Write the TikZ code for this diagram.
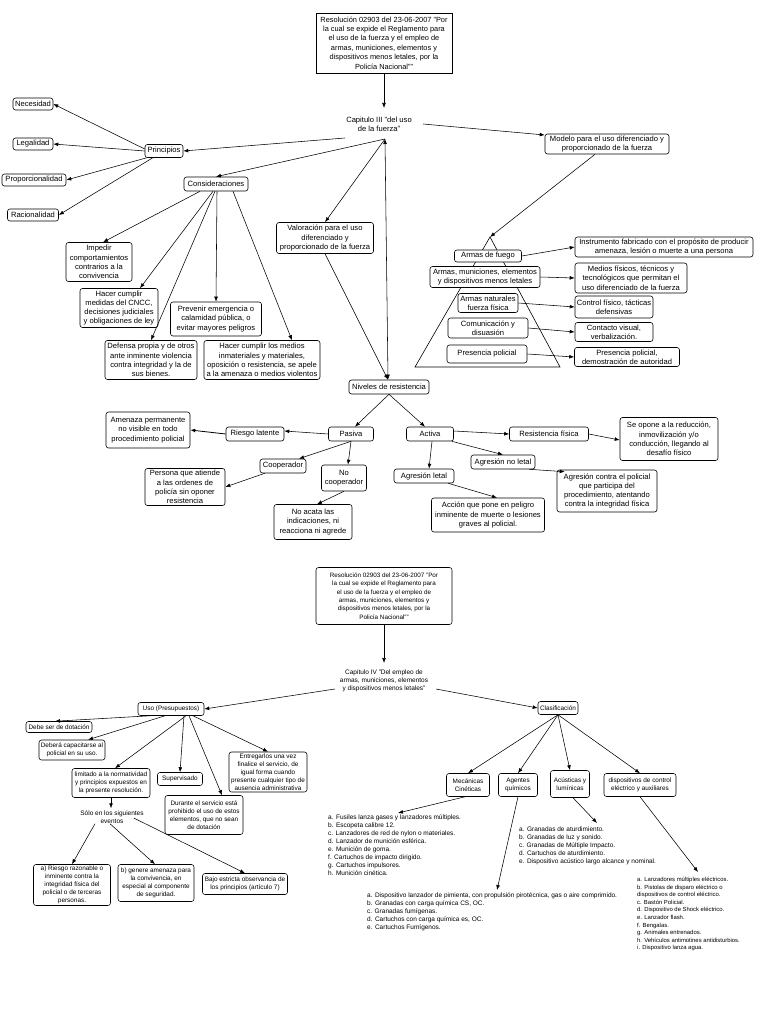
\documentclass[tikz,border=0pt]{standalone}
\usepackage{fontspec}
\setmainfont{Liberation Sans}
\usetikzlibrary{arrows.meta,calc}
\begin{document}
\begin{tikzpicture}[x=1pt,y=-1pt,
  box/.style={draw, fill=white, rounded corners=2.5pt, line width=0.6pt, align=center, inner sep=0.5pt, font=\fontsize{7.6}{9.3}\selectfont},
  sbox/.style={draw, fill=white, rounded corners=2.5pt, line width=0.55pt, align=center, inner sep=0.5pt, font=\fontsize{6.4}{7.9}\selectfont},
  plain/.style={align=center, inner sep=0pt, font=\fontsize{7.6}{9.3}\selectfont},
  splain/.style={align=center, inner sep=0pt, font=\fontsize{6.5}{8.2}\selectfont},
  lst/.style={align=left, inner sep=0pt, anchor=north west, font=\fontsize{6.5}{8}\selectfont},
  arr/.style={-{Latex[length=5pt,width=3.8pt]}, line width=0.55pt},
  darr/.style={{Latex[length=5pt,width=3.8pt]}-{Latex[length=5pt,width=3.8pt]}, line width=0.55pt},
]
\fill[white] (0,0) rectangle (768,1024);
\useasboundingbox (0,0) rectangle (768,1024);

% ---------------- TOP PART ----------------
\node[draw, fill=white, line width=0.9pt, align=center, inner sep=0.5pt, minimum width=136, minimum height=60, font=\fontsize{7.4}{9.4}\selectfont] (t1) at (384,43)
 {Resolución 02903 del 23-06-2007 "Por\\la cual se expide el Reglamento para\\el uso de la fuerza y el empleo de\\armas, municiones, elementos y\\dispositivos menos letales, por la\\Policía Nacional""};
\node[plain] (cap3) at (379,124) {Capitulo III "del uso\\de la fuerza"};
\coordinate (c3top) at (384,108);
\coordinate (c3l) at (345,138);
\coordinate (c3b) at (385,139);
\coordinate (c3r) at (423,124);

\node[box, minimum width=38, minimum height=13] (princ) at (164,151) {Principios};
\node[box, minimum width=40, minimum height=12] (nec) at (33,104) {Necesidad};
\node[box, minimum width=40, minimum height=12] (leg) at (33,144) {Legalidad};
\node[box, minimum width=64, minimum height=12] (prop) at (34,180) {Proporcionalidad};
\node[box, minimum width=51, minimum height=12] (rac) at (33,215) {Racionalidad};
\node[box, minimum width=64, minimum height=14] (cons) at (216,184) {Consideraciones};
\node[box, minimum width=124, minimum height=20] (modelo) at (607,144) {Modelo para el uso diferenciado y\\proporcionado de la fuerza};
\node[box, minimum width=97, minimum height=31] (valor) at (325,238) {Valoración para el uso\\diferenciado y\\proporcionado de la fuerza};
\node[box, minimum width=66, minimum height=39] (imped) at (99,262) {Impedir\\comportamientos\\contrarios a la\\convivencia};
\node[box, minimum width=78, minimum height=39] (cncc) at (119,308) {Hacer cumplir\\medidas del CNCC,\\decisiones judiciales\\y obligaciones de ley};
\node[box, minimum width=91, minimum height=34] (prev) at (216,319) {Prevenir emergencia o\\calamidad pública, o\\evitar mayores peligros};
\node[box, minimum width=92, minimum height=39] (defn) at (151,360) {Defensa propia y de otros\\ante inminente violencia\\contra integridad y la de\\sus bienes.};
\node[box, minimum width=116, minimum height=39] (hcm) at (262,360) {Hacer cumplir los medios\\inmateriales y materiales,\\oposición o resistencia, se apele\\a la amenaza o medios violentos};

% pyramid
\coordinate (apex) at (490,237);
\draw[line width=0.6pt] (apex) -- (415,367) -- (560,367) -- cycle;
\node[box, minimum width=67, minimum height=12] (fuego) at (488,256) {Armas de fuego};
\node[box, minimum width=110, minimum height=21] (amun) at (485,277) {Armas, municiones, elementos\\y dispositivos menos letales};
\node[box, minimum width=60, minimum height=19] (nat) at (488,303) {Armas naturales\\fuerza física};
\node[box, minimum width=80, minimum height=20] (com) at (488,328) {Comunicación y\\disuasión};
\node[box, minimum width=80, minimum height=18] (pres) at (487,354) {Presencia policial};

\node[box, minimum width=178, minimum height=20] (instr) at (664,247) {Instrumento fabricado con el propósito de producir\\amenaza, lesión o muerte a una persona};
\node[box, minimum width=112, minimum height=30] (medios) at (631,278) {Medios físicos, técnicos y\\tecnológicos que permitan el\\uso diferenciado de la fuerza};
\node[box, minimum width=78, minimum height=22] (ctrl) at (614,307) {Control físico, tácticas\\defensivas};
\node[box, minimum width=78, minimum height=19] (cont) at (614,332) {Contacto visual,\\verbalización.};
\node[box, minimum width=105, minimum height=19] (pres2) at (627,357) {Presencia policial,\\demostración de autoridad};

% niveles
\node[box, minimum width=80, minimum height=14] (niv) at (389,387) {Niveles de resistencia};
\node[box, minimum width=45, minimum height=14] (pas) at (351,434) {Pasiva};
\node[box, minimum width=47, minimum height=14] (act) at (430,434) {Activa};
\node[box, minimum width=58, minimum height=14] (riesgo) at (255,434) {Riesgo latente};
\node[box, minimum width=84, minimum height=36] (amen) at (148,430) {Amenaza permanente\\no visible en todo\\procedimiento policial};
\node[box, minimum width=46, minimum height=14] (coop) at (283,466) {Cooperador};
\node[box, minimum width=80, minimum height=37] (pers) at (185,487) {Persona que atiende\\a las ordenes de\\policía sin oponer\\resistencia};
\node[box, minimum width=45, minimum height=26] (nocoop) at (344,478) {No\\cooperador};
\node[box, minimum width=78, minimum height=35] (noacata) at (313,522) {No acata las\\indicaciones, ni\\reacciona ni agrede};
\node[box, minimum width=79, minimum height=14] (resf) at (549,434) {Resistencia física};
\node[box, minimum width=98, minimum height=43] (seop) at (669,439) {Se opone a la reducción,\\inmovilización y/o\\conducción, llegando al\\desafío físico};
\node[box, minimum width=64, minimum height=14] (agnl) at (503,462) {Agresión no letal};
\node[box, minimum width=100, minimum height=42] (agcontra) at (607,491) {Agresión contra el policial\\que participa del\\procedimiento, atentando\\contra la integridad física};
\node[box, minimum width=60, minimum height=14] (agl) at (424,476) {Agresión letal};
\node[box, minimum width=113, minimum height=34] (accion) at (488,515) {Acción que pone en peligro\\inminente de muerte o lesiones\\graves al policial.};

% connectors top
\draw[arr] (t1) -- (c3top);
\draw[arr] (c3l) -- (princ.east);
\draw[arr] (c3b) -- (cons.north);
\draw[arr] (c3b) -- (valor.north);
\draw[darr] (c3b) -- ($(niv.north)+(-1,0)$);
\draw[arr] (c3r) -- ($(modelo.west)+(0,-9)$);
\draw[arr] ($(modelo.south)+(-12,0)$) -- (apex);
\draw[arr] ($(princ.west)+(0,-2)$) -- (nec.east);
\draw[arr] (princ.west) -- (leg.east);
\draw[arr] ($(princ.south west)+(2,0)$) -- (prop.east);
\draw[arr] ($(princ.south west)+(8,0)$) -- (rac.east);
\draw[arr] ($(cons.south)+(-16,0)$) -- ($(imped.north)+(4,0)$);
\draw[arr] ($(cons.south)+(-3,0)$) -- ($(cncc.north)+(21,0)$);
\draw[arr] ($(cons.south)+(-1,0)$) -- (defn.north);
\draw[arr] ($(cons.south)+(1,0)$) -- (prev.north);
\draw[arr] ($(cons.south)+(17,0)$) -- ($(hcm.north)+(30,0)$);
\draw[arr] (valor.south) -- ($(niv.north)+(-1,0)$);
\draw[arr] (fuego.east) -- (instr.west);
\draw[arr] (amun.east) -- (medios.west);
\draw[arr] (nat.east) -- (ctrl.west);
\draw[arr] (com.east) -- (cont.west);
\draw[arr] (pres.east) -- (pres2.west);
\draw[arr] (niv.south) -- ($(pas.north)+(4,0)$);
\draw[arr] (niv.south) -- ($(act.north)+(-5,0)$);
\draw[arr] (pas.west) -- ($(riesgo.east)+(0,-3)$);
\draw[arr, line width=0.8pt] (riesgo.west) -- (amen.east);
\draw[arr] (pas.south) -- ($(coop.north)+(16,0)$);
\draw[arr] (pas.south) -- ($(nocoop.north)+(4,0)$);
\draw[arr] ($(coop.south west)+(5,0)$) -- (pers.east);
\draw[arr] (nocoop.south) -- ($(noacata.north)+(4,0)$);
\draw[arr] ($(act.east)+(0,-3)$) -- (resf.west);
\draw[arr] (resf.east) -- ($(seop.west)+(0,1)$);
\draw[arr] ($(act.south east)+(-2,0)$) -- (agnl.north);
\draw[arr] ($(act.south)+(2,0)$) -- ($(agl.north)+(5,0)$);
\draw[arr] ($(agnl.south east)+(-6,0)$) -- ($(agcontra.north west)+(8,2)$);
\draw[arr] ($(agl.south east)+(-6,0)$) -- ($(accion.north)+(9,0)$);

% ---------------- BOTTOM PART ----------------
\node[sbox, minimum width=136, minimum height=57, font=\fontsize{6.3}{8.3}\selectfont] (t2) at (384,596)
 {Resolución 02903 del 23-06-2007 "Por\\la cual se expide el Reglamento para\\el uso de la fuerza y el empleo de\\armas, municiones, elementos y\\dispositivos menos letales, por la\\Policía Nacional""};
\node[splain] (cap4) at (384,681) {Capitulo IV "Del empleo de\\armas, municiones, elementos\\y dispositivos menos letales"};
\coordinate (c4top) at (384,663);
\coordinate (c4l) at (335,689);
\coordinate (c4r) at (436,689);

\node[sbox, minimum width=66, minimum height=13] (uso) at (171,709) {Uso (Presupuestos)};
\node[sbox, minimum width=40, minimum height=13] (clas) at (558,708) {Clasificación};
\node[sbox, minimum width=66, minimum height=11] (debe) at (59,727) {Debe ser de dotación};
\node[sbox, minimum width=66, minimum height=20] (debera) at (72,750) {Deberá capacitarse al\\policial en su uso.};
\node[sbox, minimum width=78, minimum height=29] (lim) at (111,783) {limitado a la normatividad\\y principios expuestos en\\la presente resolución.};
\node[sbox, minimum width=45, minimum height=13] (sup) at (180,779) {Supervisado};
\node[sbox, minimum width=78, minimum height=39] (dur) at (204,815) {Durante el servicio está\\prohibido el uso de estos\\elementos, que no sean\\de dotación};
\node[sbox, minimum width=78, minimum height=40] (ent) at (268,772) {Entregarlos una vez\\finalice el servicio, de\\igual forma cuando\\presente cualquier tipo de\\ausencia administrativa};
\node[splain] (solo) at (112,817) {Sólo en los siguientes\\eventos};
\node[sbox, minimum width=77, minimum height=41] (ra) at (72,885) {a) Riesgo razonable o\\inminente contra la\\integridad física del\\policial o de terceras\\personas.};
\node[sbox, minimum width=76, minimum height=37] (rb) at (156,883) {b) genere amenaza para\\la convivencia, en\\especial al componente\\de seguridad.};
\node[sbox, minimum width=85, minimum height=21] (rc) at (245,884) {Bajo estricta observancia de\\los principios (artículo 7)};

\node[sbox, minimum width=43, minimum height=23] (mec) at (468,785) {Mecánicas\\Cinéticas};
\node[sbox, minimum width=39, minimum height=23] (agq) at (518,785) {Agentes\\químicos};
\node[sbox, minimum width=39, minimum height=27] (acu) at (570,784) {Acústicas y\\lumínicas};
\node[sbox, minimum width=72, minimum height=23] (disp) at (640,785) {dispositivos de control\\eléctrico y auxiliares};

\node[lst] (l1) at (328,815) {a. Fusiles lanza gases y lanzadores múltiples.\\b. Escopeta calibre 12.\\c. Lanzadores de red de nylon o materiales.\\d. Lanzador de munición esférica.\\e. Munición de goma.\\f. Cartuchos de impacto dirigido.\\g. Cartuchos impulsores.\\h. Munición cinética.};
\node[lst] (l2) at (367,893) {a. Dispositivo lanzador de pimienta, con propulsión pirotécnica, gas o aire comprimido.\\b. Granadas con carga química CS, OC.\\c. Granadas fumígenas.\\d. Cartuchos con carga química es, OC.\\e. Cartuchos Fumígenos.};
\node[lst] (l3) at (519,827) {a. Granadas de aturdimiento.\\b. Granadas de luz y sonido.\\c. Granadas de Múltiple Impacto.\\d. Cartuchos de aturdimiento.\\e. Dispositivo acústico largo alcance y nominal.};
\node[lst, font=\fontsize{5.9}{7.6}\selectfont] (l4) at (637,877) {a. Lanzadores múltiples eléctricos.\\b. Pistolas de disparo eléctrico o\\dispositivos de control eléctrico.\\c. Bastón Policial.\\d. Dispositivo de Shock eléctrico.\\e. Lanzador flash.\\f. Bengalas.\\g. Animales entrenados.\\h. Vehículos antimotines antidisturbios.\\i. Dispositivo lanza agua.};
\coordinate (l1t) at (398,813);
\coordinate (l2t) at (497,890);
\coordinate (l3t) at (597,823);
\coordinate (l4t) at (698,872);

% connectors bottom
\draw[arr] (t2) -- (c4top);
\draw[arr] (c4l) -- (uso.east);
\draw[arr] (c4r) -- (clas.west);
\draw[arr] ($(uso.south)+(-21,0)$) -- ($(debe.north)+(-4,0)$);
\draw[arr] ($(uso.south)+(-6,0)$) -- ($(debera.north)+(16,0)$);
\draw[arr] ($(uso.south)+(15,0)$) -- ($(lim.north)+(4,0)$);
\draw[arr] ($(uso.south)+(13,0)$) -- (sup.north);
\draw[arr] ($(uso.south)+(18,0)$) -- ($(dur.north)+(18,0)$);
\draw[arr] ($(uso.south)+(22,0)$) -- (ent.north);
\draw[arr] (lim.south) -- ($(solo.north)+(-1,-2)$);
\draw[arr] ($(solo.south)+(-17,0)$) -- (ra.north);
\draw[arr] ($(solo.south)+(-2,0)$) -- ($(rb.north)+(-1,0)$);
\draw[arr] ($(solo.east)+(-10,1)$) -- (rc.north);
\draw[arr] (clas.south) -- (mec.north);
\draw[arr] (clas.south) -- (agq.north);
\draw[arr] (clas.south) -- (acu.north);
\draw[arr] (clas.south) -- (disp.north);
\draw[arr] ($(mec.south)+(-3,0)$) -- (l1t);
\draw[arr] (agq.south) -- (l2t);
\draw[arr] ($(acu.south)+(3,0)$) -- (l3t);
\draw[arr] (disp.south) -- (l4t);
\end{tikzpicture}
\end{document}
